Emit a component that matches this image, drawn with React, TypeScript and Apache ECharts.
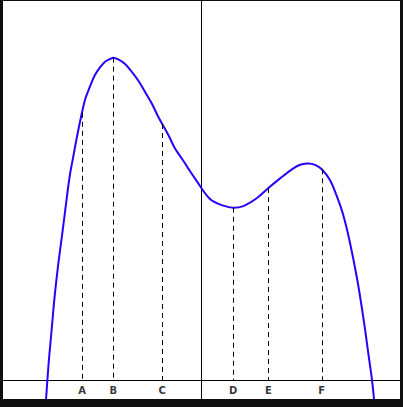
import React, { useEffect, useRef } from "react";
import * as echarts from "echarts";

// Curve samples (x = 0 at the vertical line, y = 0 at the horizontal axis)
const curveX = [
  -7.83, -7.70, -7.55, -7.40, -7.21, -6.99, -6.79, -6.63, -6.46, -6.29, -6.12,
  -5.87, -5.62, -5.37, -5.11, -4.86, -4.61, -4.44, -4.19, -3.85, -3.52, -3.18, -2.85,
  -2.51, -2.18, -1.98, -1.67, -1.34, -1.0, -0.67, -0.33, 0.43, 1.10, 1.60,
  2.11, 2.78, 3.37, 3.96, 4.63, 5.01, 5.38, 5.72, 6.06, 6.47, 6.83, 7.14, 7.45, 7.85, 8.17,
  8.45, 8.59, 8.69,
];
const curveY = [
  -1.0, 0.9, 2.64, 4.4, 6.17, 7.92, 9.59, 10.82, 11.79, 12.75, 13.63,
  14.78, 15.48, 16.1, 16.5, 16.8, 16.94, 17.01, 16.92, 16.68, 16.27, 15.79, 15.21,
  14.6, 13.89, 13.51, 12.93, 12.23, 11.7, 11.17, 10.64, 9.55, 9.2, 9.09,
  9.18, 9.59, 10.13, 10.64, 11.17, 11.37, 11.43, 11.35, 11.12, 10.55, 9.66, 8.71, 7.39, 5.28, 3.17,
  1.06, 0, -1.0,
];

// Marked points A–F
const markNames = ["A", "B", "C", "D", "E", "F"];
const markX = [-6.01, -4.44, -1.98, 1.6, 3.37, 6.06];
const markY = [14.1, 17.01, 13.51, 9.09, 10.13, 11.12];

const LABEL_Y = -0.53; // row of the letters, just under the axis

export default function App() {
  const ref = useRef<HTMLDivElement>(null);

  useEffect(() => {
    if (!ref.current) return;
    const chart = echarts.init(ref.current, null, { renderer: "svg" });
    const curve = curveX.map((x, i) => [x, curveY[i]]);
    const drops = markX.map((x, i) => [{ coord: [x, markY[i]] }, { coord: [x, 0] }]);
    const letters = markX.map((x, i) => ({ value: [x, LABEL_Y], name: markNames[i] }));
    chart.setOption({
      animation: false,
      backgroundColor: "#0f0f0f",
      grid: {
        left: 3,
        top: 1,
        width: 397,
        height: 398,
        show: true,
        backgroundColor: "#ffffff",
        borderWidth: 0,
        containLabel: false,
        outerBoundsMode: "none",
      },
      xAxis: {
        type: "value",
        min: -10,
        max: 10,
        axisLine: { show: true, onZero: true, lineStyle: { color: "#000", width: 1 } },
        axisTick: { show: false },
        splitLine: { show: false },
        axisLabel: { show: false },
      },
      yAxis: {
        type: "value",
        min: -1,
        max: 20,
        axisLine: { show: true, onZero: true, lineStyle: { color: "#000", width: 1 } },
        axisTick: { show: false },
        axisLabel: { show: false },
        splitLine: { show: false },
      },
      series: [
        {
          type: "line",
          data: curve,
          smooth: 0.35,
          showSymbol: false,
          symbol: "none",
          lineStyle: { color: "#2a00ff", width: 2 },
          silent: true,
          markLine: {
            silent: true,
            symbol: ["none", "none"],
            label: { show: false },
            lineStyle: { color: "#000", width: 1, type: [5, 4] },
            data: drops,
          },
        },
        {
          type: "scatter",
          data: letters,
          symbolSize: 0,
          silent: true,
          label: {
            show: true,
            position: "inside",
            formatter: "{b}",
            color: "#000",
            fontSize: 10,
            fontWeight: "bold",
            fontFamily: "DejaVu Sans",
          },
        },
      ],
    });
    return () => chart.dispose();
  }, []);

  return (
    <div
      ref={ref}
      style={{ position: "absolute", left: 0, top: 0, width: 403, height: 407 }}
    />
  );
}
